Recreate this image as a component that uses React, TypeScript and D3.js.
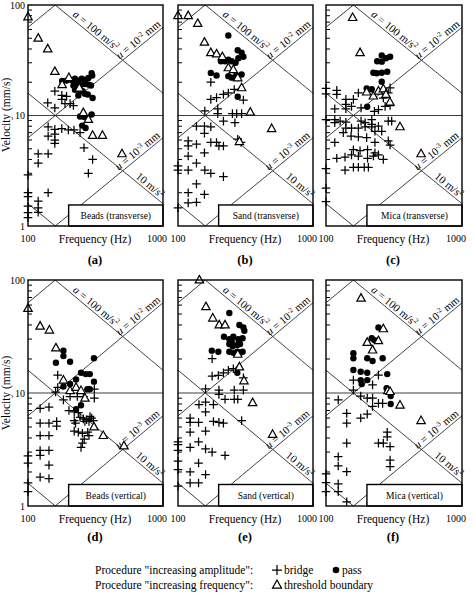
import * as d3 from "d3";

type Pt = [number, number]; // [frequency (Hz), velocity (mm/s)]

const FONT = "'Liberation Serif', 'Times New Roman', serif";

// (a) Beads (transverse)
const bridgeA: Pt[] = [
  [158, 16.6], [140, 13], [158, 11.7], [178, 14], [178, 15.2], [193, 14.9], [188, 12.8], [205, 12.8], [217, 12.3],
  [141, 7.9], [158, 7.5], [141, 6.5], [158, 6.8], [158, 6.0], [158, 5.6], [178, 7.6], [199, 7.4], [219, 7.4],
  [243, 7], [260, 5.1], [301, 4], [280, 3], [119, 4.5], [141, 4.5], [119, 3.7], [100, 2.9], [100, 2],
  [100, 1.84], [100, 1.51], [100, 1.32], [100, 1.19], [119, 1.68], [119, 1.46], [119, 1.33], [141, 2],
];
const passA: Pt[] = [
  [179, 20.5], [193, 20.7], [210, 21], [223, 21.5], [236, 20.7], [250, 21.5], [264, 21], [280, 21.9], [296, 24.2],
  [299, 23], [217, 18.7], [229, 19.1], [243, 18.7], [261, 19.3], [280, 19.1], [293, 18.7], [223, 17.1], [239, 17.1],
  [254, 16.6], [264, 15.7], [277, 15.5], [236, 15.2], [301, 14.4], [243, 9.8], [261, 9.7], [296, 10.2], [252, 8.1],
  [267, 7.7],
];
const thresholdA: Pt[] = [
  [100, 78], [119, 50], [140, 40], [158, 25], [201, 22], [179, 19], [240, 17.7], [257, 10.6], [280, 9.2],
  [301, 6.6], [356, 6.6], [497, 4.5],
];

// (b) Sand (transverse)
const bridgeB: Pt[] = [
  [175, 20], [175, 14], [193, 14.5], [217, 15.5], [236, 16], [261, 17.2], [305, 13.8], [158, 11], [197, 11.5],
  [197, 10.4], [217, 8.9], [253, 10.4], [272, 10.4], [296, 10.4], [264, 8.6], [137, 8], [157, 8], [175, 7.9],
  [157, 6.9], [119, 5.9], [119, 5.3], [137, 5.5], [175, 5.7], [193, 5.7], [201, 5.3], [217, 5.3], [277, 6.1],
  [293, 5.7], [157, 4.6], [119, 4.3], [100, 3.5], [100, 3.2], [119, 3.2], [137, 3.7], [158, 3.2], [175, 3],
  [217, 2.8], [137, 2.4], [119, 2], [157, 1.93], [119, 1.62], [137, 1.64], [100, 1.46],
];
const passB: Pt[] = [
  [236, 53], [277, 39], [296, 37], [305, 34], [208, 31], [223, 31], [236, 32], [250, 31], [267, 30], [280, 33],
  [175, 24.3], [193, 23], [236, 22.7], [250, 22], [270, 23], [296, 23.5], [277, 14.8],
];
const thresholdB: Pt[] = [
  [100, 80], [119, 80], [140, 68], [157, 46], [175, 37], [193, 36], [213, 34], [236, 27], [257, 26],
  [277, 21.9], [296, 17.8], [343, 10.7], [494, 7.6], [285, 5.8],
];

// (c) Mica (transverse)
const bridgeC: Pt[] = [
  [120, 16.9], [120, 15.5], [140, 14], [159, 14], [173, 16], [140, 12.6], [154, 12.1], [116, 11.5], [140, 11.5],
  [181, 11.7], [296, 17.8], [287, 16], [264, 14.4], [296, 12.3], [272, 12.1], [243, 11.3], [227, 10.9], [116, 9.2],
  [116, 8.6], [127, 8.9], [140, 8.7], [181, 8.9], [194, 8.6], [217, 9.2], [217, 8.3], [140, 7.7], [154, 7.7],
  [173, 7.7], [194, 7.9], [217, 7.9], [243, 8], [287, 8.9], [304, 8.9], [134, 7], [153, 6.5], [173, 6.4],
  [199, 6.3], [229, 7.2], [257, 7.2], [229, 5.7], [287, 5.9], [296, 5.4], [116, 5.7], [159, 4.9], [178, 4.8],
  [202, 4.9], [229, 4.6], [243, 4.4], [120, 4.1], [138, 4.2], [154, 4.4], [173, 4.3], [202, 4.1], [223, 4.3],
  [264, 4], [138, 3.2], [159, 3.4], [173, 3.4], [191, 3.4], [205, 3.4], [100, 17.6], [100, 15.7], [100, 9.2],
  [100, 3.3], [100, 2.2], [100, 1.66],
];
const passC: Pt[] = [
  [257, 35], [276, 33], [296, 34], [238, 31], [257, 30.7], [223, 24.4], [236, 24.1], [257, 24.4], [282, 24.9],
  [257, 20.2], [199, 17.6], [217, 17.3], [201, 12],
];
const thresholdC: Pt[] = [
  [157, 77], [178, 37], [199, 16.3], [223, 15], [243, 16.6], [264, 17.4], [276, 15.5], [295, 13.2], [350, 7.9],
  [500, 4.5],
];

// (d) Beads (vertical)
const bridgeD: Pt[] = [
  [166, 14.4], [166, 11.2], [160, 10.2], [183, 8.7], [205, 9.3], [232, 9.3], [257, 9.3], [310, 10.8], [310, 9.0],
  [123, 7.3], [143, 7.5], [123, 5.4], [143, 5.4], [163, 5.6], [163, 5.1], [123, 4.2], [143, 4.2], [100, 2.77],
  [100, 2.39], [123, 3.1], [123, 2.8], [143, 3.1], [143, 2.3], [123, 1.8], [143, 1.75], [100, 1.6], [100, 1.34],
  [201, 7.0], [220, 6.8], [236, 6.7], [243, 6.1], [257, 5.9], [272, 5.8], [288, 6.2], [296, 6.0], [305, 5.7],
  [264, 5.6], [283, 5.6], [220, 5.7], [225, 5.4], [220, 4.6], [236, 4.5], [253, 4.4], [277, 4.5], [283, 4.2],
  [261, 3.9], [253, 3.6], [247, 3.3],
];
const passD: Pt[] = [
  [183, 23.7], [183, 21.2], [161, 18.5], [205, 18.9], [308, 20.3], [205, 12], [227, 13.2], [247, 15.1], [268, 14.7],
  [287, 14.7], [308, 12.6], [183, 11.4], [275, 10.8], [287, 10.8], [247, 7.8], [227, 7.2],
];
const thresholdD: Pt[] = [
  [100, 56], [123, 39], [144, 36], [161, 25], [183, 13], [205, 10.5], [227, 11.2], [247, 10.5], [264, 9],
  [308, 5], [361, 4.2], [514, 3.4],
];

// (e) Sand (vertical)
const bridgeE: Pt[] = [
  [179, 20.1], [179, 14.1], [199, 14.3], [217, 15.1], [236, 15.9], [257, 16.4], [305, 13.6], [160, 10.9], [201, 10.6],
  [201, 9.7], [261, 10.6], [305, 10.6], [223, 8.8], [261, 8.8], [277, 8.8], [143, 7.9], [160, 8.3], [183, 7.9],
  [160, 6.8], [123, 6], [123, 5.5], [142, 5.5], [183, 5.6], [201, 5.5], [217, 5.4], [296, 5.7], [160, 4.6],
  [123, 4.5], [100, 3.5], [100, 3.1], [123, 3.3], [142, 3.7], [160, 3.2], [179, 3], [223, 2.8], [142, 2.4],
  [100, 2.5], [123, 2], [160, 1.9], [123, 1.6], [142, 1.6], [100, 1.5], [100, 3.7], [100, 2.1],
];
const passE: Pt[] = [
  [240, 51], [285, 40], [305, 38], [310, 35.6], [301, 30.5], [280, 29.9], [257, 31.5], [240, 29.9], [219, 31.5],
  [250, 28.5], [240, 27.1], [254, 26], [275, 26.6], [288, 27.1], [178, 23.7], [199, 23.2], [240, 23.2], [257, 22.7],
  [275, 23.2], [288, 22.7], [301, 23.2], [275, 15.1],
];
const thresholdE: Pt[] = [
  [144, 100], [161, 58], [181, 46], [202, 40], [223, 40], [277, 22], [285, 17], [308, 12.8], [357, 8.2], [502, 4.3],
];

// (f) Mica (vertical)
const bridgeF: Pt[] = [
  [159, 13], [243, 14.4], [220, 11.8], [159, 10.6], [180, 9.4], [201, 9], [220, 9], [243, 8.1], [261, 8.1],
  [220, 7.6], [123, 8.7], [142, 6.6], [142, 5.4], [180, 6], [201, 6.5], [142, 3.6], [282, 4.5], [282, 4.1],
  [243, 3.6], [264, 3.6], [296, 3.35], [296, 2.55], [296, 2.23], [123, 2.73], [123, 2.26], [142, 2.01], [100, 1.92],
  [100, 1.61], [100, 1.34], [123, 1.57], [123, 1.34], [142, 1.09],
];
const passF: Pt[] = [
  [243, 38], [217, 30.5], [227, 29.4], [159, 22.5], [159, 20.3], [201, 20.3], [220, 19.2], [261, 20.3], [159, 16],
  [180, 15.4], [201, 15.1], [282, 14.7], [180, 13], [201, 13], [183, 12], [279, 11], [299, 9.4], [299, 8.0],
];
const thresholdF: Pt[] = [
  [181, 69], [264, 37], [201, 28], [243, 29], [220, 24], [285, 10.5], [296, 10.3], [350, 7.8], [500, 5.7],
];

const materialLabels = [
  "Beads (transverse)", "Sand (transverse)", "Mica (transverse)",
  "Beads (vertical)", "Sand (vertical)", "Mica (vertical)",
];
const panelLetters = ["(a)", "(b)", "(c)", "(d)", "(e)", "(f)"];
const xTickLabels = ["100", "1000"];
const yTickLabels = ["100", "10", "1"];
const accelLevels = [1, 10, 100]; // m/s²
const displLevels = [0.1, 0.01, 0.001]; // mm

const frames = [
  { left: 28, top: 5, width: 135, height: 221 },
  { left: 178, top: 5, width: 135, height: 221 },
  { left: 326, top: 5, width: 136, height: 221 },
  { left: 28, top: 280, width: 135, height: 226 },
  { left: 178, top: 280, width: 135, height: 226 },
  { left: 326, top: 280, width: 136, height: 226 },
];

const series = [
  [bridgeA, passA, thresholdA],
  [bridgeB, passB, thresholdB],
  [bridgeC, passC, thresholdC],
  [bridgeD, passD, thresholdD],
  [bridgeE, passE, thresholdE],
  [bridgeF, passF, thresholdF],
];

const accel = (a: number) => (f: number) => (a * 1000) / (2 * Math.PI * f);
const displ = (u: number) => (f: number) => 2 * Math.PI * f * u;

function Cross({ x, y, s = 4.3 }: { x: number; y: number; s?: number }) {
  return (
    <path d={`M${x - s},${y}H${x + s}M${x},${y - s}V${y + s}`} stroke="#000" strokeWidth={1.25} fill="none" />
  );
}

function Triangle({ x, y, s = 4.2 }: { x: number; y: number; s?: number }) {
  return (
    <path
      d={`M${x},${y - s * 1.1}L${x + s},${y + s * 0.7}L${x - s},${y + s * 0.7}Z`}
      stroke="#000"
      strokeWidth={1.2}
      fill="#fff"
    />
  );
}

function Panel({ idx }: { idx: number }) {
  const { left, top, width, height } = frames[idx];
  const right = left + width;
  const bottom = top + height;
  const [bridge, pass, threshold] = series[idx];
  const x = d3.scaleLog().domain([100, 1000]).range([left, right]);
  const y = d3.scaleLog().domain([1, 100]).range([bottom, top]);
  const clipId = `clip-${idx}`;
  const fRange = d3.range(40, 2600, 20);

  const path = (fn: (f: number) => number) =>
    d3.line<number>().x((f) => x(f)).y((f) => y(fn(f)))(fRange) ?? "";

  // position + rotation for a label sitting on top of one of the diagonal lines
  const along = (fn: (f: number) => number, f: number, d = 2.5) => {
    const x1 = x(f / 1.2), y1 = y(fn(f / 1.2));
    const x2 = x(f * 1.2), y2 = y(fn(f * 1.2));
    const ang = Math.atan2(y2 - y1, x2 - x1);
    const px = x(f) + Math.sin(ang) * d;
    const py = y(fn(f)) - Math.cos(ang) * d;
    return `translate(${px},${py}) rotate(${(ang * 180) / Math.PI})`;
  };

  const minorX = d3.range(200, 1000, 100);
  const minorY = [...d3.range(2, 10), ...d3.range(20, 100, 10)];
  const boxTop = y(1.55);

  return (
    <g>
      <defs>
        <clipPath id={clipId}>
          <rect x={left} y={top} width={width} height={height} />
        </clipPath>
      </defs>
      <g clipPath={`url(#${clipId})`} stroke="#1a1a1a" strokeWidth={0.85} fill="none">
        {accelLevels.map((a) => (
          <path key={`a${a}`} d={path(accel(a))} />
        ))}
        {displLevels.map((u) => (
          <path key={`u${u}`} d={path(displ(u))} />
        ))}
        <line x1={left} x2={right} y1={y(10)} y2={y(10)} />
      </g>

      {/* line labels */}
      <g fontSize={11} textAnchor="middle" fill="#000">
        <text transform={along(accel(100), 298)}>
          <tspan fontStyle="italic">a</tspan> = 100 m/s
          <tspan dy={-4} fontSize={7}>2</tspan>
        </text>
        <text transform={along(displ(0.01), 700)}>
          <tspan fontStyle="italic">u</tspan> = 10
          <tspan dy={-4} fontSize={7}>-2</tspan>
          <tspan dy={4}> mm</tspan>
        </text>
        <text transform={along(displ(0.001), 690)}>
          <tspan fontStyle="italic">u</tspan> = 10
          <tspan dy={-4} fontSize={7}>-3</tspan>
          <tspan dy={4}> mm</tspan>
        </text>
        <text transform={along(accel(10), 750)}>
          10 m/s
          <tspan dy={-4} fontSize={7}>2</tspan>
        </text>
      </g>

      {/* ticks */}
      <g stroke="#000" strokeWidth={1}>
        {minorX.map((f) => (
          <line key={`tx${f}`} x1={x(f)} x2={x(f)} y1={bottom} y2={bottom - 4} />
        ))}
        {minorY.map((v) => (
          <line key={`ty${v}`} x1={left} x2={left + 4} y1={y(v)} y2={y(v)} />
        ))}
      </g>

      {/* marks */}
      {bridge.map(([f, v], i) => (
        <Cross key={`b${i}`} x={x(f)} y={y(v)} />
      ))}
      {pass.map(([f, v], i) => (
        <circle key={`p${i}`} cx={x(f)} cy={y(v)} r={3.2} fill="#000" />
      ))}
      {threshold.map(([f, v], i) => (
        <Triangle key={`t${i}`} x={x(f)} y={y(v)} />
      ))}

      {/* material box */}
      <rect x={x(200)} y={boxTop} width={right - x(200)} height={bottom - boxTop} fill="#fff" stroke="#000" strokeWidth={1.4} />
      <text x={(x(200) + right) / 2} y={(boxTop + bottom) / 2 + 3.5} textAnchor="middle" fontSize={9.5}>
        {materialLabels[idx]}
      </text>

      <rect x={left} y={top} width={width} height={height} fill="none" stroke="#000" strokeWidth={1.4} />

      {/* axis texts */}
      <g fontSize={10} fill="#000">
        <text x={left} y={bottom + 16} textAnchor="middle">{xTickLabels[0]}</text>
        <text x={right + 4} y={bottom + 16} textAnchor="end">{xTickLabels[1]}</text>
      </g>
      <text x={left + 67} y={bottom + 17} textAnchor="middle" fontSize={11.5}>
        Frequency (Hz)
      </text>
      <text x={left + 67} y={bottom + (idx < 3 ? 38 : 35)} textAnchor="middle" fontSize={12.5} fontWeight="bold">
        {panelLetters[idx]}
      </text>
      {idx % 3 === 0 && (
        <g fontSize={10} textAnchor="end">
          {[100, 10, 1].map((v, i) => (
            <text key={v} x={left - 3} y={y(v) + 3.5}>
              {yTickLabels[i]}
            </text>
          ))}
        </g>
      )}
    </g>
  );
}

export default function App() {
  return (
    <svg
      width={474}
      height={594}
      style={{ position: "absolute", left: 0, top: 0, background: "#fff" }}
      fontFamily={FONT}
    >
      <rect width={474} height={594} fill="#fff" />
      {frames.map((_, i) => (
        <Panel key={i} idx={i} />
      ))}
      <text transform="translate(10,115) rotate(-90)" textAnchor="middle" fontSize={11.5}>
        Velocity (mm/s)
      </text>
      <text transform="translate(10,393) rotate(-90)" textAnchor="middle" fontSize={11.5}>
        Velocity (mm/s)
      </text>

      {/* legend */}
      <g fontSize={11.5}>
        <text x={95} y={574}>Procedure "increasing amplitude":</text>
        <Cross x={277} y={570} s={5} />
        <text x={284} y={574}>bridge</text>
        <circle cx={336} cy={570} r={3.3} fill="#000" />
        <text x={342} y={574}>pass</text>
        <text x={95} y={589}>Procedure "increasing frequency":</text>
        <Triangle x={277} y={585} s={4.5} />
        <text x={284} y={589}>threshold boundary</text>
      </g>
    </svg>
  );
}
